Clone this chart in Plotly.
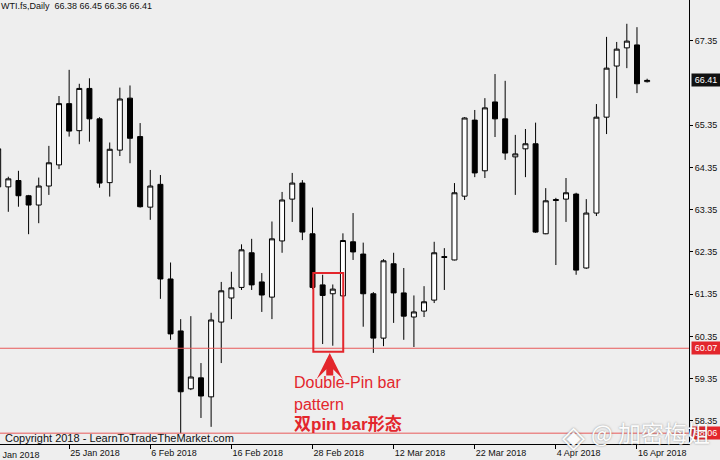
import pandas as pd
import plotly.graph_objects as go

# ---------------- data ----------------
# daily trading sessions shown (Good Friday 30 Mar has no bar)
dates = [d.strftime("%Y-%m-%d") for d in pd.bdate_range("2018-01-16", "2018-04-17")
         if d.strftime("%Y-%m-%d") != "2018-03-30"]

opens = [63.89, 63.89, 64.04, 63.68, 63.46, 63.91, 64.41, 65.86, 65.22, 66.22,
         65.50, 63.99, 64.76, 65.99, 65.08, 63.41, 63.95, 61.71, 60.48, 59.11,
         59.37, 58.92, 60.69, 61.26, 61.51, 62.33, 61.64, 61.28, 62.61, 63.60,
         63.98, 62.78, 61.57, 61.36, 61.31, 62.59, 62.30, 61.36, 60.31, 62.07,
         61.38, 60.81, 60.95, 61.21, 62.24, 62.16, 63.67, 65.47, 64.27, 65.90,
         65.50, 64.60, 64.79, 64.91, 62.78, 63.59, 63.60, 63.72, 61.97, 63.27,
         65.54, 66.75, 67.18, 67.25, 66.38]
highs = [64.85, 64.13, 64.27, 63.70, 64.11, 64.86, 66.04, 66.66, 66.33, 66.46,
         65.54, 64.94, 66.24, 66.29, 65.40, 64.29, 64.17, 62.10, 60.76, 60.83,
         59.72, 60.91, 61.64, 61.88, 62.53, 62.66, 61.85, 63.07, 63.77, 64.22,
         64.05, 63.40, 61.81, 61.58, 62.79, 63.27, 62.57, 61.40, 62.18, 62.33,
         61.97, 61.32, 61.54, 62.59, 62.44, 63.98, 65.54, 65.71, 65.99, 66.56,
         66.40, 65.12, 65.26, 65.41, 63.86, 63.63, 64.10, 63.75, 63.60, 65.85,
         67.44, 67.32, 67.75, 67.67, 66.45]
lows = [63.85, 63.30, 63.42, 62.77, 63.03, 63.70, 64.31, 65.08, 64.90, 64.96,
        63.87, 63.66, 64.62, 64.45, 63.40, 63.11, 61.24, 60.27, 58.06, 59.08,
        58.42, 58.21, 59.72, 60.76, 61.45, 61.45, 60.93, 60.76, 62.33, 63.06,
        62.63, 61.47, 60.17, 60.13, 61.29, 62.16, 60.58, 59.96, 60.12, 60.67,
        60.27, 60.10, 60.81, 61.14, 61.45, 62.15, 63.58, 64.12, 64.10, 65.07,
        64.53, 63.70, 64.12, 62.80, 62.77, 62.04, 63.06, 61.81, 61.95, 63.20,
        65.14, 65.99, 66.70, 66.11, 66.36]
closes = [64.79, 64.08, 63.68, 63.46, 63.91, 64.46, 65.86, 65.21, 66.22, 65.50,
          63.98, 64.78, 65.97, 65.04, 63.42, 63.91, 61.71, 60.41, 59.04, 59.39,
          58.94, 60.74, 61.43, 61.50, 62.40, 61.57, 61.33, 62.66, 63.58, 63.98,
          62.82, 61.51, 61.32, 61.47, 62.62, 62.35, 61.36, 60.31, 62.14, 61.38,
          60.83, 60.93, 61.17, 62.33, 62.22, 63.75, 65.52, 64.22, 65.76, 65.50,
          64.69, 64.67, 64.91, 62.82, 63.56, 63.57, 63.75, 61.92, 63.27, 65.54,
          66.70, 67.15, 67.34, 66.33, 66.41]

price_ticks = [58.35, 59.35, 60.35, 61.35, 62.35, 63.35, 64.35, 65.35, 67.35]
date_tick_idx = [7, 15, 23, 31, 39, 47, 55, 63]
date_tick_text = ["25 Jan 2018", "6 Feb 2018", "16 Feb 2018", "28 Feb 2018",
                  "12 Mar 2018", "22 Mar 2018", "4 Apr 2018", "16 Apr 2018"]
first_label = "15 Jan 2018"

support_level = 60.07
low_level = 58.06
last_price = 66.41
pin_bars = [32, 33]

title_text = "WTI.fs,Daily\u00a0\u00a066.38 66.45 66.36 66.41"
copyright_text = "Copyright 2018 - LearnToTradeTheMarket.com"
note_lines = ["Double-Pin bar", "pattern", "<b>双pin bar形态</b>"]
watermark_text = "@\u00a0加密梅姐"

# ---------------- figure ----------------
RED = "#e3262c"
LINE_RED = "#e8595a"
BG = "#eeeeee"
X0, X1 = 0.18, 68.13
Y0, Y1 = 57.804, 68.313
FONT = "Liberation Sans, Arial, sans-serif"

fig = go.Figure(go.Candlestick(
    x=dates, open=opens, high=highs, low=lows, close=closes,
    increasing=dict(line=dict(color="#000000", width=1), fillcolor="#ffffff"),
    decreasing=dict(line=dict(color="#000000", width=1), fillcolor="#000000"),
    whiskerwidth=0, showlegend=False,
))

# horizontal levels
for lvl in (support_level, low_level):
    fig.add_shape(type="line", xref="paper", x0=0, x1=1, yref="y", y0=lvl, y1=lvl,
                  line=dict(color=LINE_RED, width=1), layer="above")

# rectangle around the two pin bars
fig.add_shape(type="rect", xref="x", yref="y",
              x0=min(pin_bars) - 0.92, x1=max(pin_bars) + 1.03,
              y0=min(lows[i] for i in pin_bars) - 0.14,
              y1=max(highs[i] for i in pin_bars) + 0.04,
              line=dict(color=RED, width=2), fillcolor="rgba(0,0,0,0)")

annotations = []
# arrow under the rectangle
annotations.append(dict(x=(pin_bars[0] + pin_bars[1]) / 2 + 0.2, xref="x",
                        y=min(lows[i] for i in pin_bars) - 0.17, yref="y",
                        ax=0, ay=24, text="", showarrow=True, arrowhead=3,
                        arrowsize=0.62, arrowwidth=7, arrowcolor=RED, standoff=0))
# note text
note_y = [59.27, 58.74, 58.27]
note_size = [16, 16, 17]
for t, yy, sz in zip(note_lines, note_y, note_size):
    annotations.append(dict(x=pin_bars[0] - 3.0, xref="x",
                            y=yy, yref="y", text=t, showarrow=False,
                            xanchor="left", yanchor="middle",
                            font=dict(family="Liberation Sans, Noto Sans CJK SC, sans-serif",
                                      size=sz, color=RED)))
# title
annotations.append(dict(x=0, y=1, xref="paper", yref="paper", xanchor="left", yanchor="top",
                        xshift=-1, yshift=1, text=title_text, showarrow=False,
                        font=dict(family=FONT, size=9, color="#111111")))
# copyright
annotations.append(dict(x=0, y=0, xref="paper", yref="paper", xanchor="left", yanchor="bottom",
                        xshift=3, yshift=-2, text=copyright_text, showarrow=False,
                        font=dict(family=FONT, size=11, color="#111111")))
# first (cut) date label
annotations.append(dict(x=(-1 - X0) / (X1 - X0), y=0, xref="paper", yref="paper",
                        xanchor="left", yanchor="top", yshift=-4, text=first_label,
                        showarrow=False, font=dict(family=FONT, size=9, color="#111111")))
# price labels on the axis
for val, bg in ((support_level, RED), (low_level, RED), (last_price, "#111111")):
    annotations.append(dict(x=1, xref="paper", y=val, yref="y", xanchor="left",
                            yanchor="middle", xshift=2, text=f"{val:.2f}", showarrow=False,
                            bgcolor=bg, borderpad=1, width=26,
                            font=dict(family=FONT, size=9, color="#ffffff")))
# watermark (logo + handle)
wm_font = dict(family="Noto Sans CJK SC, DejaVu Sans, sans-serif",
               color="rgba(255,255,255,0.97)",
               shadow="0px 0px 2px rgba(60,60,60,0.55)")
annotations.append(dict(x=712 / 689, y=0, xref="paper", yref="paper", xanchor="right",
                        yanchor="middle", yshift=12, text=watermark_text, showarrow=False,
                        font=dict(size=23, **wm_font)))
annotations.append(dict(x=573 / 689, y=0, xref="paper", yref="paper", xanchor="center",
                        yanchor="middle", yshift=10, text="◈", showarrow=False,
                        font=dict(size=30, **wm_font)))

fig.update_layout(
    width=720, height=460,
    margin=dict(l=0, r=31, t=0, b=16, autoexpand=False),
    paper_bgcolor=BG, plot_bgcolor=BG,
    annotations=annotations,
    xaxis=dict(type="category", range=[X0, X1], rangeslider=dict(visible=False),
               showgrid=False, zeroline=False, showline=True, linecolor="#000000",
               linewidth=1, ticks="outside", ticklen=4, tickcolor="#000000",
               tickvals=[dates[i] for i in date_tick_idx], ticktext=date_tick_text,
               ticklabelposition="outside right",
               tickfont=dict(family=FONT, size=9, color="#111111")),
    yaxis=dict(side="right", range=[Y0, Y1], showgrid=False, zeroline=False,
               showline=True, linecolor="#000000", linewidth=1, ticks="outside",
               ticklen=3, tickcolor="#000000", tickvals=price_ticks,
               ticktext=[f"{v:.2f}" for v in price_ticks],
               tickfont=dict(family=FONT, size=9, color="#111111")),
    hovermode=False,
)

fig.write_html("out.html", config={"displayModeBar": False},
               post_script="document.body.style.margin='0';document.body.style.background='#eeeeee';")
